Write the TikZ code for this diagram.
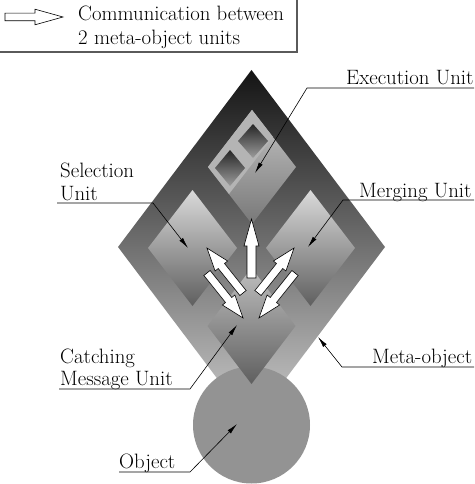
\documentclass[tikz,border=0pt]{standalone}
\usetikzlibrary{arrows.meta}
\definecolor{bigtop}{RGB}{20,20,20}
\definecolor{bigmid}{RGB}{125,125,125}
\definecolor{bigbot}{RGB}{205,205,205}
\definecolor{unittop}{RGB}{218,218,218}
\definecolor{unitbot}{RGB}{95,95,95}
\definecolor{exectop}{RGB}{196,196,196}
\definecolor{execbot}{RGB}{120,120,120}
\definecolor{catchtop}{RGB}{190,190,190}
\definecolor{catchbot}{RGB}{95,95,95}
\definecolor{smalltop}{RGB}{38,38,38}
\definecolor{smallbot}{RGB}{156,156,156}
\definecolor{framegray}{RGB}{180,180,180}
\definecolor{objgray}{RGB}{147,147,147}
\definecolor{legendline}{RGB}{90,90,90}
\begin{document}
\begin{tikzpicture}[x=1pt,y=-1pt,
  lbl/.style={anchor=base west,inner sep=0pt,font=\fontsize{20.8}{25}\selectfont},
  leader/.style={line width=0.6pt,-{Latex[length=11pt,width=4.5pt]}},
  blk/.style={draw=black,fill=white,line width=0.6pt,line join=miter},
  pics/barrow/.style n args={4}{code={
    \draw[blk] (0,-#2) -- ({#1-#4},-#2) -- ({#1-#4},-#3) -- (#1,0) -- ({#1-#4},#3) -- ({#1-#4},#2) -- (0,#2) -- cycle;}}]
\useasboundingbox (0,0) rectangle (474,484);

% meta-object (big diamond)
\shade[top color=bigtop, middle color=bigmid, bottom color=bigbot]
  (251.5,70) -- (385,247) -- (251.5,424) -- (118,247) -- cycle;

% object
\fill[objgray] (251.5,425) circle (58.5);

% execution unit
\shade[top color=exectop, bottom color=execbot]
  (252,110) -- ++(44,57) -- ++(-44,57) -- ++(-44,-57) -- cycle;
\fill[framegray] (252,110) -- (273,137) -- (229,194) -- (208,167) -- cycle;
\shade[top color=smalltop, bottom color=smallbot]
  (253,124) -- ++(15,17) -- ++(-15,17) -- ++(-15,-17) -- cycle;
\shade[top color=smalltop, bottom color=smallbot]
  (230,150) -- ++(15,18) -- ++(-15,18) -- ++(-15,-18) -- cycle;

% selection unit
\shade[top color=unittop, bottom color=unitbot]
  (192.5,190) -- ++(44.5,58) -- ++(-44.5,58) -- ++(-44.5,-58) -- cycle;
% merging unit
\shade[top color=unittop, bottom color=unitbot]
  (310.5,190) -- ++(44.5,58) -- ++(-44.5,58) -- ++(-44.5,-58) -- cycle;
% catching message unit
\shade[top color=catchtop, bottom color=catchbot]
  (251.5,268) -- ++(44,58) -- ++(-44,58) -- ++(-44,-58) -- cycle;

% communication arrows
\pic[rotate=90] at (251.5,278) {barrow={59}{4.5}{7.5}{27}};
\pic[rotate=128.7] at (243,293) {barrow={57.6}{4}{8}{23}};
\pic[rotate=-51.3] at (207,273) {barrow={57.6}{4}{8}{23}};
\pic[rotate=51.3] at (258,293) {barrow={57.6}{4}{8}{23}};
\pic[rotate=-128.7] at (295,273) {barrow={57.6}{4}{8}{23}};

% legend
\draw[legendline,line width=1.2pt] (297,-2) -- (297,52) -- (-2,52);
\pic at (5,17) {barrow={58}{3.8}{7.8}{28}};
\node[lbl] (leg1) at (78,21) {Communication between};
\node[lbl] (leg2) at (78,45) {2 meta-object units};

% labels
\node[lbl] (exec) at (346,85) {Execution Unit};
\node[lbl] (merg) at (359,197) {Merging Unit};
\node[lbl] (sel1) at (60,177) {Selection};
\node[lbl] (sel2) at (60,200) {Unit};
\node[lbl] (cat1) at (60,363) {Catching};
\node[lbl] (cat2) at (60,385) {Message Unit};
\node[lbl] (meta) at (372,363) {Meta-object};
\node[lbl] (obj) at (119,468) {Object};

% leader lines
\coordinate (execR) at (474,88);   \coordinate (execL) at (307,88);   \coordinate (execT) at (255,173);
\coordinate (mergR) at (474,200);  \coordinate (mergL) at (343,200);  \coordinate (mergT) at (308,247);
\coordinate (selL)  at (57,203);   \coordinate (selR)  at (153,203);  \coordinate (selT)  at (188,248);
\coordinate (catL)  at (59,389);   \coordinate (catR)  at (190,389);  \coordinate (catT)  at (237,325);
\coordinate (metaR) at (474,367);  \coordinate (metaL) at (342,367);  \coordinate (metaT) at (318,337);
\coordinate (objL)  at (119,472);  \coordinate (objR)  at (190,472);  \coordinate (objT)  at (237,424);

\draw[leader] (execR) -- (execL) -- (execT);
\draw[leader] (mergR) -- (mergL) -- (mergT);
\draw[leader] (selL) -- (selR) -- (selT);
\draw[leader] (catL) -- (catR) -- (catT);
\draw[leader] (metaR) -- (metaL) -- (metaT);
\draw[leader] (objL) -- (objR) -- (objT);
\end{tikzpicture}
\end{document}
